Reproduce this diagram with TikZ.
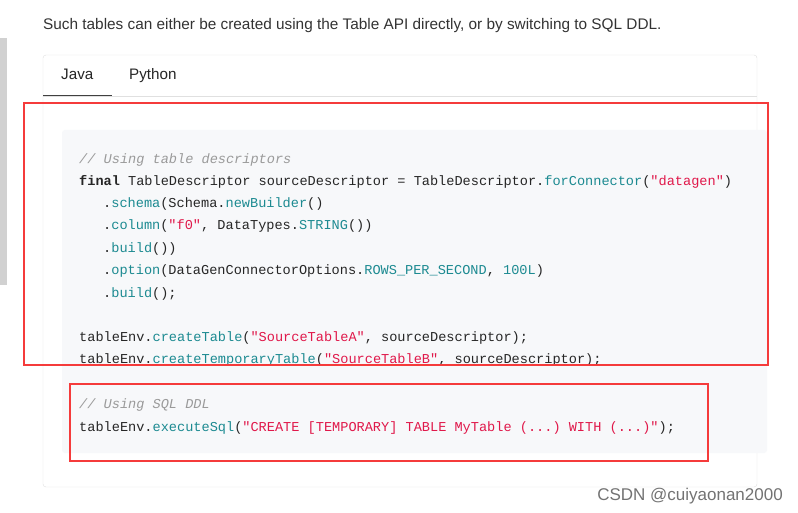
\documentclass[tikz,border=0pt]{standalone}
\usepackage{fontspec}
\setmainfont{Liberation Sans}
\setmonofont{Liberation Mono}
\definecolor{kwc}{HTML}{1C8A91}
\definecolor{strc}{HTML}{E0184A}
\definecolor{cmc}{HTML}{9A9A9A}
\definecolor{codebg}{HTML}{F7F8FA}
\definecolor{redbox}{HTML}{F53B3B}
\newcommand\K[1]{\textcolor{kwc}{#1}}
\newcommand\St[1]{\textcolor{strc}{#1}}
\begin{document}
\begin{tikzpicture}[x=1pt,y=-1pt,
  code/.style={anchor=base west,inner sep=0,font=\ttfamily\fontsize{13.6}{15}\selectfont,text=black!85},
  ui/.style={anchor=base west,inner sep=0,font=\fontsize{15.2}{17}\selectfont,text=black!85},
  redframe/.style={draw=redbox,line width=2pt}]
\useasboundingbox (0,0) rectangle (798,513);
\fill[white] (0,0) rectangle (798,513);
\fill[black!18] (0,38) rectangle (7,285);
\node[ui,text=black!80,font=\fontsize{15.35}{17}\selectfont] (intro) at (43,30) {Such tables can either be created using the Table API directly, or by switching to SQL DDL.};
\draw[black!12,rounded corners=3pt] (43,55) rectangle (757,487);
\draw[black!12] (43,96) -- (757,96);
\draw[black!75,line width=1pt] (43,95.5) -- (112,95.5);
\node[ui] (java) at (61,80) {Java};
\node[ui] (py) at (129,80) {Python};
\fill[codebg,rounded corners=3pt] (62,130) rectangle (767,453);
\node[code,text=cmc,font=\ttfamily\itshape\fontsize{13.6}{15}\selectfont] (c1) at (79,164) {// Using table descriptors};
\node[code] (c2) at (79,186) {\textbf{final} TableDescriptor sourceDescriptor = TableDescriptor.\K{forConnector}(\St{"datagen"})};
\node[code] (c3) at (103,208) {.\K{schema}(Schema.\K{newBuilder}()};
\node[code] (c4) at (103,230) {.\K{column}(\St{"f0"}, DataTypes.\K{STRING}())};
\node[code] (c5) at (103,252) {.\K{build}())};
\node[code] (c6) at (103,275) {.\K{option}(DataGenConnectorOptions.\K{ROWS\_PER\_SECOND}, \K{100L})};
\node[code] (c7) at (103,297) {.\K{build}();};
\node[code] (c8) at (79,341) {tableEnv.\K{createTable}(\St{"SourceTableA"}, sourceDescriptor);};
\node[code] (c9) at (79,363) {tableEnv.\K{createTemporaryTable}(\St{"SourceTableB"}, sourceDescriptor);};
\fill[codebg] (62,367) rectangle (767,380);
\node[code,text=cmc,font=\ttfamily\itshape\fontsize{13.6}{15}\selectfont] (c10) at (79,408) {// Using SQL DDL};
\node[code] (c11) at (79,431) {tableEnv.\K{executeSql}(\St{"CREATE [TEMPORARY] TABLE MyTable (...) WITH (...)"});};
\draw[redframe] (24,103) rectangle (768,365);
\draw[redframe] (70,384) rectangle (708,461);
\node[anchor=base east,inner sep=0,font=\fontsize{17}{19}\selectfont,text=black!55] (wm) at (783,500) {CSDN @cuiyaonan2000};
\end{tikzpicture}
\end{document}
